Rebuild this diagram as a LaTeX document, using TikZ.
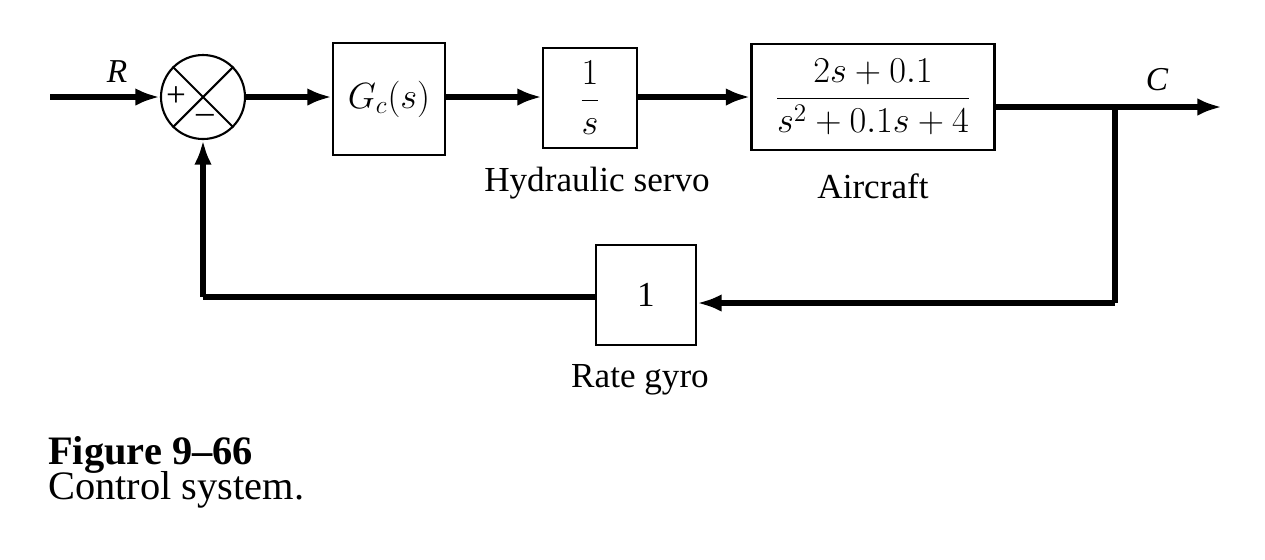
\documentclass[tikz,border=0pt]{standalone}
\usepackage{amsmath}
\usepackage{fontspec}
\setmainfont{Liberation Serif}
\usetikzlibrary{arrows.meta}
\begin{document}
\begin{tikzpicture}[x=0.02cm,y=-0.02cm,
  blk/.style={draw,line width=1.2pt,inner sep=0pt},
  sig/.style={line width=3pt,-{Latex[length=14pt,width=10pt]}},
  ln/.style={line width=3pt},
  lbl/.style={font=\fontsize{20}{24}\selectfont}]
\useasboundingbox (0,0) rectangle (1265,559);
\coordinate (in) at (50,97);
\node[draw,circle,line width=1.2pt,minimum size=84*0.02cm,inner sep=0pt] (sum) at (203,97) {};
\draw[line width=1.2pt] (sum.north west) -- (sum.south east) (sum.north east) -- (sum.south west);
\node[lbl] at (176,97) {+};
\node[lbl] at (205,119) {--};
\node[lbl,font=\fontsize{19}{22}\selectfont\itshape] at (117,72) {R};
\node[blk,minimum width=112*0.02cm,minimum height=112*0.02cm] (gc) at (389,99) {\fontsize{20}{24}\selectfont$G_c(s)$};
\node[blk,minimum width=94*0.02cm,minimum height=100*0.02cm] (hs) at (590,98) {\fontsize{20}{24}\selectfont$\dfrac{1}{s}$};
\node[blk,minimum width=243*0.02cm,minimum height=106*0.02cm] (ac) at (873,97) {\fontsize{20}{24}\selectfont$\dfrac{2s+0.1}{s^2+0.1s+4}$};
\node[blk,minimum width=100*0.02cm,minimum height=100*0.02cm] (rg) at (646,295) {\fontsize{20}{24}\selectfont 1};
\node[lbl] at (597,183) {Hydraulic servo};
\node[lbl] at (873,186) {Aircraft};
\node[lbl] at (640,380) {Rate gyro};
\node[lbl,font=\fontsize{19}{22}\selectfont\itshape] at (1157,80) {C};
\coordinate (out) at (1222,107);
\coordinate (br) at (1115,107);
\coordinate (b1) at (1115,303);
\coordinate (b2) at (203,297);
\draw[sig] (in) -- (sum.west);
\draw[sig] (sum.east) -- (sum.east -| gc.west);
\draw[sig] (sum.east -| gc.east) -- (sum.east -| hs.west);
\draw[sig] (sum.east -| hs.east) -- (sum.east -| ac.west);
\draw[sig] (ac.east |- out) -- (out);
\draw[ln] (br) -- (b1);
\draw[sig] (b1) -- (rg.east |- b1);
\draw[ln] (rg.west |- b2) -- (b2);
\draw[sig] (b2) -- (sum.south);
\node[anchor=west,font=\fontsize{23}{27}\selectfont\bfseries] at (42,455) {Figure 9--66};
\node[anchor=west,font=\fontsize{23}{27}\selectfont] at (42,490) {Control system.};
\end{tikzpicture}
\end{document}
